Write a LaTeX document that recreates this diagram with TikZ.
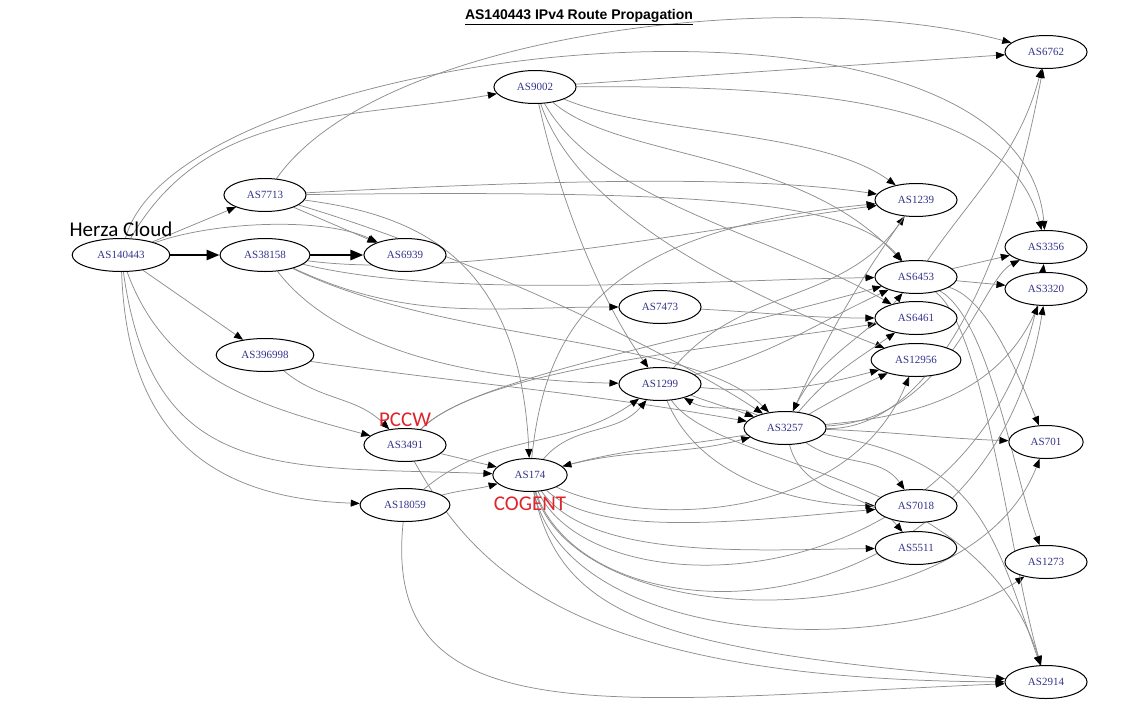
\documentclass[tikz,border=0pt]{standalone}
\usepackage{fontspec}
\setmainfont{Liberation Serif}
\newfontfamily\tagfont{Carlito}
\newfontfamily\titlefont{Liberation Sans}
\usepackage[dvipsnames]{xcolor}
\definecolor{asBlue}{HTML}{33338C}
\definecolor{linkGray}{HTML}{8E8E8E}
\definecolor{tagRed}{HTML}{E0242C}
\usepackage{tikz}
\usetikzlibrary{shapes.geometric, arrows.meta, positioning, backgrounds}

\begin{document}
\begin{tikzpicture}[
    x=1pt, y=1pt,
    as/.style={ellipse, draw=black, line width=1pt, fill=white, text=asBlue,
               font=\fontsize{11}{13}\selectfont, inner xsep=11pt, inner ysep=0pt,
               minimum height=33pt},
    link/.style={-{Triangle[length=9pt, width=7pt, color=black]}, draw=linkGray, line width=0.75pt},
    heavy/.style={-{Triangle[length=13pt, width=10pt]}, draw=black, line width=2.6pt},
    tag/.style={inner sep=0pt, font=\tagfont\fontsize{21}{23}\selectfont}
]
    \useasboundingbox (0,0) rectangle (1140,-723);

    \node[font=\titlefont\bfseries\fontsize{14}{16}\selectfont] (title) at (579,-17)
        {\underline{AS140443 IPv4 Route Propagation}};

    % origin and first hops
    \node[as] (a140443) at (121,-255)  {AS140443};
    \node[as] (a7713)   at (265,-195)  {AS7713};
    \node[as] (a38158)  at (265,-255)  {AS38158};
    \node[as] (a6939)   at (405,-255)  {AS6939};
    \node[as] (a9002)   at (535,-87)   {AS9002};
    \node[as] (a396998) at (265,-355)  {AS396998};
    \node[as] (a3491)   at (405,-445)  {AS3491};
    \node[as] (a18059)  at (405,-505)  {AS18059};
    \node[as] (a174)    at (530,-475)  {AS174};
    % transit
    \node[as] (a7473)   at (660,-307)  {AS7473};
    \node[as] (a1299)   at (660,-384)  {AS1299};
    \node[as] (a3257)   at (785,-428)  {AS3257};
    \node[as] (a1239)   at (916,-200)  {AS1239};
    \node[as] (a6453)   at (916,-277)  {AS6453};
    \node[as] (a6461)   at (916,-318)  {AS6461};
    \node[as] (a12956)  at (916,-360)  {AS12956};
    \node[as] (a7018)   at (916,-506)  {AS7018};
    \node[as] (a5511)   at (916,-548)  {AS5511};
    % right column
    \node[as] (a6762)   at (1046,-52)  {AS6762};
    \node[as] (a3356)   at (1046,-247) {AS3356};
    \node[as] (a3320)   at (1046,-289) {AS3320};
    \node[as] (a701)    at (1046,-442) {AS701};
    \node[as] (a1273)   at (1046,-562) {AS1273};
    \node[as] (a2914)   at (1046,-682) {AS2914};

    \node[tag, above=1pt of a140443] (herza) {Herza Cloud};
    \node[tag, text=tagRed, above=1pt of a3491] (pccw) {PCCW};
    \node[tag, text=tagRed, below=5pt of a174] (cogent) {COGENT};

    \begin{scope}[on background layer]
    % AS140443
    \draw[link] (a140443) -- (a7713);
    \draw[heavy] (a140443) -- (a38158);
    \draw[link] (a140443) to[out=20, in=155, looseness=0.7] (a6939);
    \draw[link] (a140443) to[out=60, in=190] (a9002);
    \draw[link] (a140443) .. controls +(75:220) and +(95:300) .. (a3356);
    \draw[link] (a140443) -- (a396998);
    \draw[link] (a140443) to[out=-70, in=165] (a3491);
    \draw[link] (a140443) to[out=-82, in=178, looseness=1.3] (a174);
    \draw[link] (a140443) to[out=-88, in=178, looseness=1.2] (a18059);
    % AS7713
    \draw[link] (a7713) -- (a6939);
    \draw[link] (a7713) .. controls +(55:200) and +(165:260) .. (a6762);
    \draw[link] (a7713) .. controls (550,-180) and (750,-175) .. (a1239);
    \draw[link] (a7713) .. controls (700,-190) and (850,-200) .. (a6453);
    \draw[link] (a7713) .. controls (420,-215) and (520,-260) .. (a174);
    \draw[link] (a7713) .. controls (450,-250) and (650,-340) .. (a3257);
    % AS9002
    \draw[link] (a9002) -- (a6762);
    \draw[link] (a9002) .. controls (650,-135) and (820,-130) .. (a1239);
    \draw[link] (a9002) .. controls (620,-160) and (800,-150) .. (a6453);
    \draw[link] (a9002) .. controls (600,-200) and (760,-230) .. (a6461);
    \draw[link] (a9002) .. controls (580,-220) and (760,-300) .. (a12956);
    \draw[link] (a9002) .. controls (560,-200) and (600,-300) .. (a1299);
    \draw[link] (a9002) .. controls (850,-85) and (1010,-110) .. (a3356);
    % AS38158
    \draw[heavy] (a38158) -- (a6939);
    \draw[link] (a38158) .. controls (450,-280) and (700,-230) .. (a1239);
    \draw[link] (a38158) .. controls (450,-300) and (700,-280) .. (a6453);
    \draw[link] (a38158) to[out=-25, in=180] (a7473);
    \draw[link] (a38158) .. controls (450,-345) and (690,-335) .. (a3257);
    \draw[link] (a38158) .. controls (330,-340) and (450,-380) .. (a1299);
    % AS396998, AS3491, AS18059
    \draw[link] (a396998) to[out=-40, in=135] (a3491);
    \draw[link] (a396998) to[out=-8, in=170] (a3257);
    \draw[link] (a3491) -- (a174);
    \draw[link] (a3491) .. controls (470,-380) and (650,-350) .. (a6453);
    \draw[link] (a3491) .. controls (480,-370) and (700,-350) .. (a6461);
    \draw[link] (a3491) .. controls (470,-560) and (560,-680) .. (a2914);
    \draw[link] (a18059) to[out=15, in=195] (a174);
    \draw[link] (a18059) .. controls (380,-740) and (620,-700) .. (a2914);
    \draw[link] (a18059) to[out=40, in=215] (a1299);
    % AS174
    \draw[link] (a174) to[out=50, in=230] (a1299);
    \draw[link] (a174) to[out=15, in=195] (a3257);
    \draw[link] (a174) .. controls (545,-330) and (600,-230) .. (a1239);
    \draw[link] (a174) .. controls (650,-530) and (850,-520) .. (a12956);
    \draw[link] (a174) .. controls (600,-540) and (750,-520) .. (a7018);
    \draw[link] (a174) .. controls (590,-560) and (750,-550) .. (a5511);
    \draw[link] (a174) .. controls (600,-620) and (1000,-600) .. (a3356);
    \draw[link] (a174) .. controls (590,-650) and (990,-640) .. (a3320);
    \draw[link] (a174) .. controls (580,-640) and (970,-640) .. (a701);
    \draw[link] (a174) .. controls (570,-650) and (900,-660) .. (a1273);
    \draw[link] (a174) .. controls (560,-610) and (640,-650) .. (a2914);
    % AS7473, AS1299
    \draw[link] (a7473) to[out=-3, in=180] (a6461);
    \draw[link] (a1299) to[out=-20, in=160] (a3257);
    \draw[link] (a1299) to[out=-5, in=195] (a12956);
    \draw[link] (a1299) to[out=15, in=205] (a6453);
    \draw[link] (a1299) to[out=50, in=235] (a1239);
    \draw[link] (a1299) .. controls (700,-480) and (800,-505) .. (a7018);
    \draw[link] (a1299) .. controls (720,-470) and (980,-470) .. (a2914);
    % AS3257
    \draw[link] (a3257) to[out=190, in=15] (a174);
    \draw[link] (a3257) to[out=155, in=-30] (a1299);
    \draw[link] (a3257) to[out=65, in=230] (a6453);
    \draw[link] (a3257) to[out=50, in=215] (a6461);
    \draw[link] (a3257) to[out=30, in=205] (a12956);
    \draw[link] (a3257) .. controls (920,-430) and (1000,-300) .. (a6762);
    \draw[link] (a3257) .. controls (950,-420) and (980,-280) .. (a3356);
    \draw[link] (a3257) to[out=5, in=-115] (a3320);
    \draw[link] (a3257) to[out=-2, in=178] (a701);
    \draw[link] (a3257) to[out=-35, in=125] (a7018);
    \draw[link] (a3257) to[out=-75, in=130] (a5511);
    \draw[link] (a3257) .. controls (975,-460) and (990,-520) .. (a2914);
    \draw[link] (a1239) to[out=235, in=65] (a3257);
    % AS6453
    \draw[link] (a6453) to[out=55, in=-105] (a6762);
    \draw[link] (a6453) -- (a3356);
    \draw[link] (a6453) -- (a3320);
    \draw[link] (a6453) .. controls (990,-300) and (1020,-380) .. (a701);
    \draw[link] (a6453) .. controls (990,-320) and (1015,-480) .. (a1273);
    \draw[link] (a6453) .. controls (985,-330) and (1010,-560) .. (a2914);
    \end{scope}
\end{tikzpicture}
\end{document}
